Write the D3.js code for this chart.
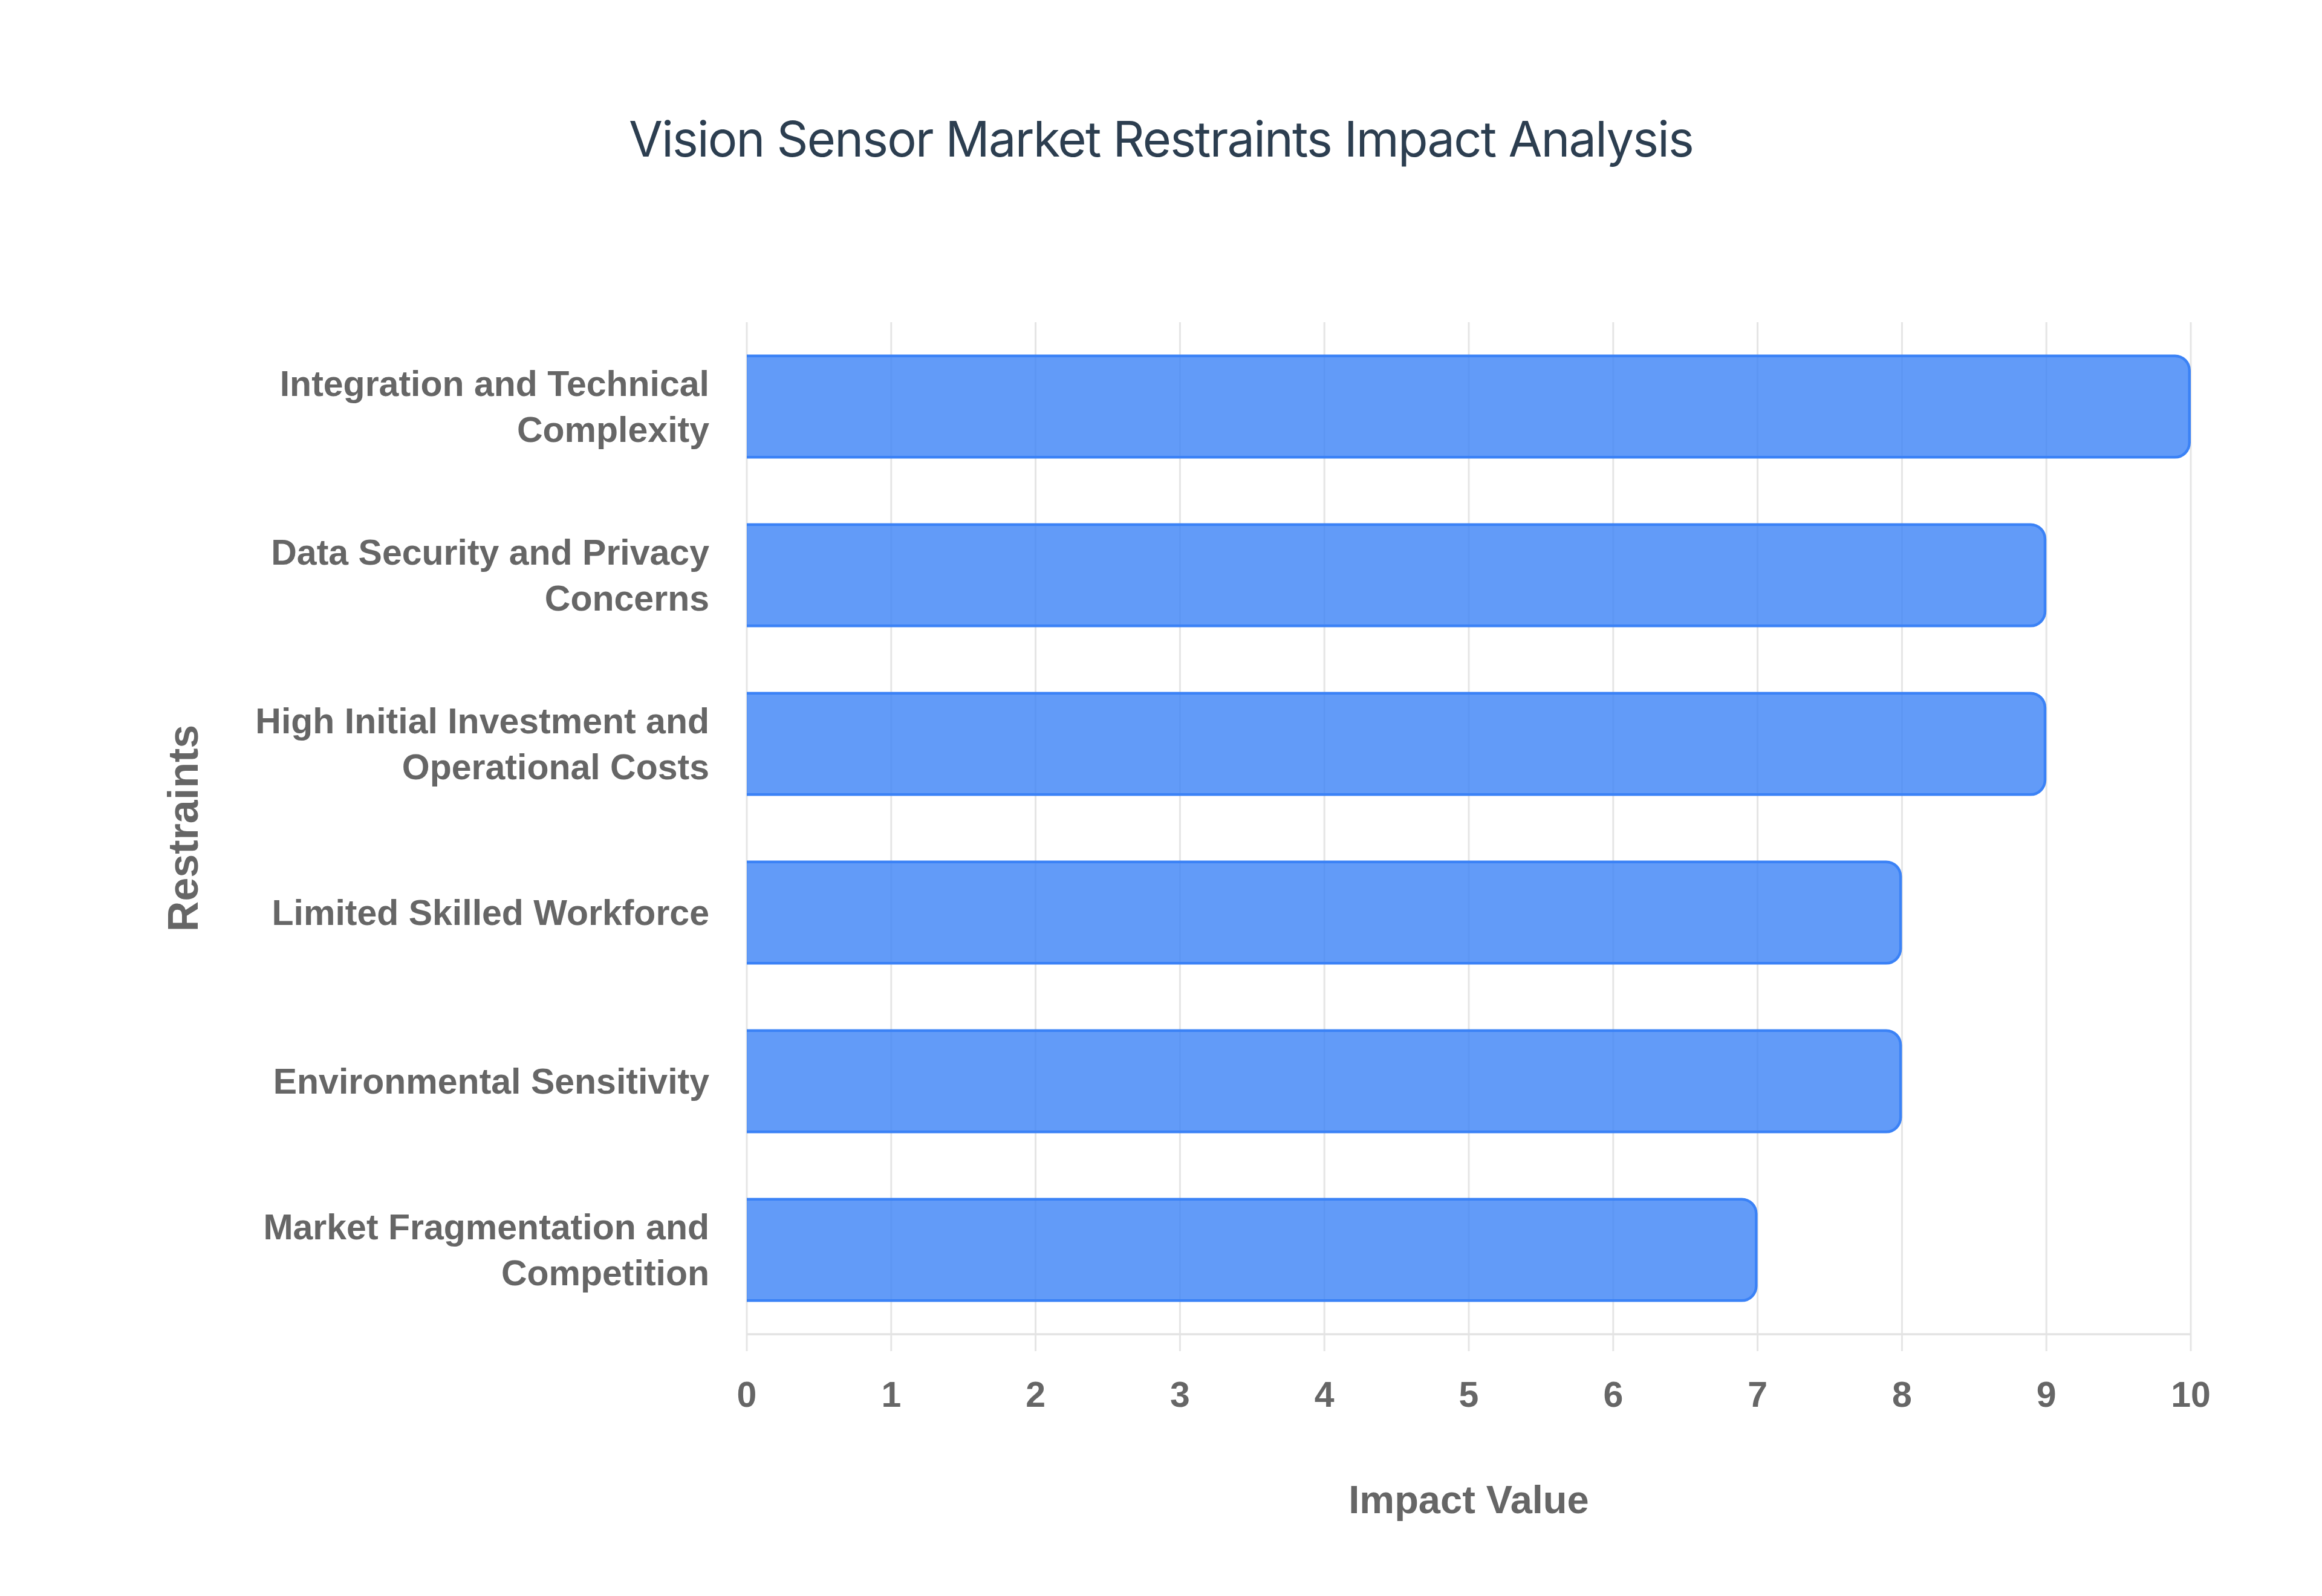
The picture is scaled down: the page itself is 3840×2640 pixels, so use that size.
<!DOCTYPE html>
<html lang="en">
<head>
    <meta charset="UTF-8">
    <title>Vision Sensor Market Restraints Impact Analysis</title>
    <script src="https://cdnjs.cloudflare.com/ajax/libs/d3/7.8.5/d3.min.js"></script>
    <style>
        body { margin: 0; background: #ffffff; }
    </style>
</head>
<body>
    <script>
        // Chart data
        var categories = [
            "Integration and Technical Complexity",
            "Data Security and Privacy Concerns",
            "High Initial Investment and Operational Costs",
            "Limited Skilled Workforce",
            "Environmental Sensitivity",
            "Market Fragmentation and Competition"
        ];
        // Tick labels as they are wrapped on the axis
        var tickLabels = [
            ["Integration and Technical", "Complexity"],
            ["Data Security and Privacy", "Concerns"],
            ["High Initial Investment and", "Operational Costs"],
            ["Limited Skilled Workforce"],
            ["Environmental Sensitivity"],
            ["Market Fragmentation and", "Competition"]
        ];
        var impactValues = [10, 9, 9, 8, 8, 7];
        var xTicks = [0, 1, 2, 3, 4, 5, 6, 7, 8, 9, 10];

        var width = 3840, height = 2640;
        var margin = {top: 533, right: 217, bottom: 433, left: 1235};
        var plotW = width - margin.left - margin.right;
        var plotH = height - margin.top - margin.bottom;

        var svg = d3.select("body")
            .append("svg")
            .attr("width", width)
            .attr("height", height)
            .style("background-color", "#ffffff");

        // Title
        svg.append("text")
            .attr("x", width / 2)
            .attr("y", 259)
            .attr("text-anchor", "middle")
            .style("font-family", "Inter, 'Noto Sans', sans-serif")
            .style("font-size", "81px")
            .style("letter-spacing", "-1.8px")
            .style("fill", "#2c3e50")
            .text("Vision Sensor Market Restraints Impact Analysis");

        var g = svg.append("g")
            .attr("transform", "translate(" + margin.left + "," + margin.top + ")");

        var xScale = d3.scaleLinear().domain([0, 10]).range([0, plotW]);
        var yScale = d3.scaleBand()
            .domain(categories)
            .range([0, plotH])
            .paddingInner(0.383)
            .paddingOuter(0.1915);

        // Vertical grid lines, running a bit below the axis as tick marks
        g.selectAll(".grid")
            .data(xTicks)
            .enter()
            .append("line")
            .attr("class", "grid")
            .attr("x1", function(d) { return xScale(d); })
            .attr("x2", function(d) { return xScale(d); })
            .attr("y1", 0)
            .attr("y2", plotH + 28)
            .style("stroke", "#e5e5e5")
            .style("stroke-width", 3);

        // Bottom axis line
        g.append("line")
            .attr("x1", 0)
            .attr("x2", plotW)
            .attr("y1", plotH)
            .attr("y2", plotH)
            .style("stroke", "#e3e3e3")
            .style("stroke-width", 3.5);

        // Bars, rounded only at the value end
        var bw = 4.5, r = 24;
        function barShape(d, closed) {
            var x0 = xScale(0);
            var x1 = xScale(d.value) - bw / 2;
            var y0 = yScale(d.name) + bw / 2;
            var y1 = yScale(d.name) + yScale.bandwidth() - bw / 2;
            var p = d3.path();
            p.moveTo(x0, y0);
            p.lineTo(x1 - r, y0);
            p.arcTo(x1, y0, x1, y0 + r, r);
            p.lineTo(x1, y1 - r);
            p.arcTo(x1, y1, x1 - r, y1, r);
            p.lineTo(x0, y1);
            if (closed) p.closePath();
            return p.toString();
        }

        var data = categories.map(function(c, i) {
            return {name: c, value: impactValues[i], lines: tickLabels[i]};
        });

        g.selectAll(".bar")
            .data(data)
            .enter()
            .append("path")
            .attr("class", "bar")
            .attr("d", function(d) { return barShape(d, true); })
            .style("fill", "rgba(59,130,246,0.8)")
            .style("stroke", "none");

        g.selectAll(".bar-edge")
            .data(data)
            .enter()
            .append("path")
            .attr("class", "bar-edge")
            .attr("d", function(d) { return barShape(d, false); })
            .style("fill", "none")
            .style("stroke", "#3b82f6")
            .style("stroke-width", bw);

        // Y tick labels
        var lineGap = 76;
        var yLabels = g.selectAll(".ylabel")
            .data(data)
            .enter()
            .append("text")
            .attr("class", "ylabel")
            .attr("text-anchor", "end")
            .attr("dominant-baseline", "central")
            .style("font-family", "'Liberation Sans', Arial, sans-serif")
            .style("font-weight", "bold")
            .style("font-size", "59px")
            .style("fill", "#666666");

        yLabels.each(function(d) {
            var cy = yScale(d.name) + yScale.bandwidth() / 2;
            var n = d.lines.length;
            d3.select(this).selectAll("tspan")
                .data(d.lines)
                .enter()
                .append("tspan")
                .attr("x", -62)
                .attr("y", function(t, i) { return cy + (i - (n - 1) / 2) * lineGap; })
                .text(function(t) { return t; });
        });

        // X tick labels
        g.selectAll(".xlabel")
            .data(xTicks)
            .enter()
            .append("text")
            .attr("class", "xlabel")
            .attr("x", function(d) { return xScale(d); })
            .attr("y", plotH + 120)
            .attr("text-anchor", "middle")
            .style("font-family", "'Liberation Sans', Arial, sans-serif")
            .style("font-weight", "bold")
            .style("font-size", "59px")
            .style("fill", "#666666")
            .text(function(d) { return d; });

        // Axis titles
        g.append("text")
            .attr("x", plotW / 2)
            .attr("y", plotH + 296)
            .attr("text-anchor", "middle")
            .style("font-family", "'Liberation Sans', Arial, sans-serif")
            .style("font-weight", "bold")
            .style("font-size", "65px")
            .style("fill", "#666666")
            .text("Impact Value");

        svg.append("text")
            .attr("transform", "translate(327," + (margin.top + plotH / 2) + ") rotate(-90)")
            .attr("text-anchor", "middle")
            .style("font-family", "'Liberation Sans', Arial, sans-serif")
            .style("font-weight", "bold")
            .style("font-size", "70px")
            .style("fill", "#666666")
            .text("Restraints");
    </script>
</body>
</html>
